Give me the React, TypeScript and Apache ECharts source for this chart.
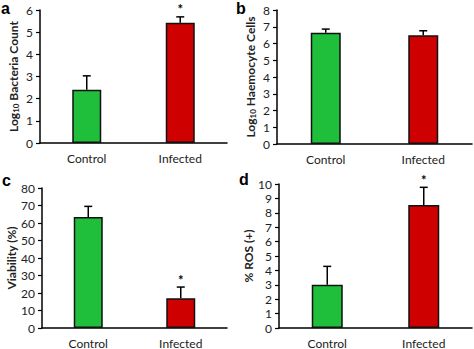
import React, { useEffect, useRef } from "react";
import * as echarts from "echarts";

const categories = ["Control", "Infected"];
const bacteria = [2.4, 5.42];
const bacteriaErr = [0.63, 0.27];
const haemocyte = [6.64, 6.5];
const haemocyteErr = [0.22, 0.26];
const viability = [63.5, 17];
const viabilityErr = [6, 6.4];
const ros = [3.0, 8.55];
const rosErr = [1.28, 1.22];
const sigA = [false, true];
const sigB = [false, false];
const sigC = [false, true];
const sigD = [false, true];

const FONT = "Lato, 'Open Sans', sans-serif";
const GREEN = "#1fbf3b";
const RED = "#cf0000";

export default function App() {
  const ref = useRef<HTMLDivElement>(null);
  useEffect(() => {
    document.body.style.margin = "0";
    const chart = echarts.init(ref.current!, null, { renderer: "svg" });

    const grids = [
      { left: 40, top: 10, width: 187, height: 133 },
      { left: 277, top: 10, width: 195, height: 134 },
      { left: 42, top: 188, width: 185, height: 141 },
      { left: 279, top: 184, width: 193, height: 145 },
    ];
    const yMax = [6, 8, 80, 10];
    const yInt = [1, 1, 10, 1];
    const names = [
      "{a|Log}{s|10}{a| Bacteria Count}",
      "{a|Log}{s|10}{a| Haemocyte Cells}",
      "{a|Viability (%)}",
      "{a|% ROS (+)}",
    ];
    const nameGaps = [20, 20, 22, 22];
    const values = [bacteria, haemocyte, viability, ros];
    const errs = [bacteriaErr, haemocyteErr, viabilityErr, rosErr];
    const sigs = [sigA, sigB, sigC, sigD];
    const barWidths = [29, 30, 29, 31];

    const xAxis = grids.map((_, i) => ({
      type: "category",
      gridIndex: i,
      data: categories,
      axisLine: { lineStyle: { color: "#000", width: 1.5 } },
      axisTick: { show: false },
      axisLabel: { color: "#222", fontSize: 12, fontFamily: FONT, margin: 9 },
    }));
    const yAxis = grids.map((_, i) => ({
      type: "value",
      gridIndex: i,
      min: 0,
      max: yMax[i],
      interval: yInt[i],
      axisLine: { show: true, lineStyle: { color: "#000", width: 1.5 } },
      axisTick: { show: true, length: 4, lineStyle: { color: "#000", width: 1.2 } },
      axisLabel: { color: "#222", fontSize: 12, fontFamily: FONT, margin: 7 },
      splitLine: { show: false },
      name: names[i],
      nameLocation: "middle",
      nameRotate: 90,
      nameGap: nameGaps[i],
      nameTextStyle: {
        rich: {
          a: { fontSize: 12, fontWeight: "bold", color: "#222", fontFamily: FONT, lineHeight: 14 },
          s: { fontSize: 8, fontWeight: "bold", color: "#222", fontFamily: FONT, lineHeight: 8, verticalAlign: "bottom", padding: [4, 0, 0, 0] },
        },
      },
    }));

    const series: any[] = [];
    grids.forEach((_, i) => {
      series.push({
        type: "bar",
        xAxisIndex: i,
        yAxisIndex: i,
        barWidth: barWidths[i],
        data: values[i].map((v, j) => ({
          value: v,
          itemStyle: { color: j === 0 ? GREEN : RED, borderColor: "#111", borderWidth: 1.5 },
        })),
      });
      series.push({
        type: "custom",
        xAxisIndex: i,
        yAxisIndex: i,
        data: values[i].map((v, j) => [j, v, v + errs[i][j], sigs[i][j] ? 1 : 0]),
        z: 5,
        renderItem: (params: any, api: any) => {
          const x = api.value(0);
          const base = api.coord([x, api.value(1)]);
          const top = api.coord([x, api.value(2)]);
          const children: any[] = [
            { type: "line", shape: { x1: base[0], y1: base[1], x2: top[0], y2: top[1] }, style: { stroke: "#000", lineWidth: 1.5 } },
            { type: "line", shape: { x1: top[0] - 4, y1: top[1], x2: top[0] + 4, y2: top[1] }, style: { stroke: "#000", lineWidth: 1.5 } },
          ];
          if (api.value(3)) {
            children.push({
              type: "text",
              x: top[0],
              y: top[1] - 1,
              style: { text: "*", fontSize: 13, fontWeight: "bold", fill: "#000", align: "center", verticalAlign: "bottom", fontFamily: FONT },
            });
          }
          return { type: "group", children };
        },
      });
    });

    const letter = (t: string, x: number, y: number) => ({
      type: "text",
      left: x,
      top: y,
      style: { text: t, fontSize: 16, fontWeight: "bold", fill: "#000", fontFamily: "Arial, 'Liberation Sans', sans-serif" },
    });

    chart.setOption({
      animation: false,
      backgroundColor: "#fff",
      grid: grids,
      xAxis,
      yAxis,
      series,
      graphic: [letter("a", 1, 0), letter("b", 236, 0), letter("c", 2, 172), letter("d", 239, 171)],
    });
    return () => chart.dispose();
  }, []);
  return <div ref={ref} style={{ width: 474, height: 349 }} />;
}
